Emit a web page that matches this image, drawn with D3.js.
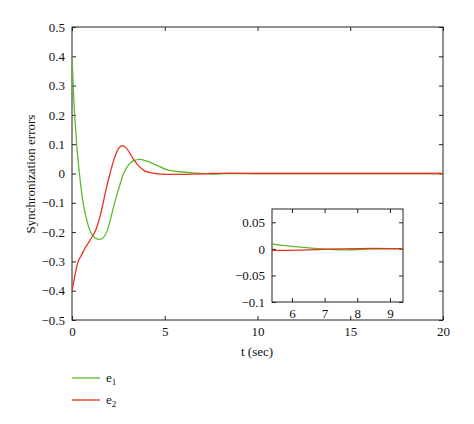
<!DOCTYPE html>
<html>
<head>
<meta charset="utf-8">
<script src="https://cdn.jsdelivr.net/npm/d3@7"></script>
<style>
  body { margin: 0; background: #fff; }
  text { font-family: "Liberation Serif", serif; font-size: 13px; fill: #111; }
  .axis path, .axis line { stroke: #222; }
</style>
</head>
<body>
<svg id="chart" width="474" height="424"></svg>
<script>
// data
const e1T = [0, 0.1, 0.25, 0.4, 0.6, 0.8, 1.0, 1.25, 1.5, 1.7, 1.9, 2.1, 2.3, 2.55, 2.75, 3.0, 3.3, 3.66, 4.0, 4.5, 5.1, 5.8, 6.5, 7.0, 7.6, 8.3, 9, 10, 12, 15, 20];
const e1V = [0.4, 0.25, 0.1, 0.0, -0.1, -0.16, -0.2, -0.22, -0.225, -0.218, -0.195, -0.15, -0.1, -0.045, -0.005, 0.025, 0.043, 0.048, 0.043, 0.03, 0.013, 0.006, 0.002, 0.0, -0.002, -0.0005, 0.0, 0.0, 0.0, 0.0, 0.0];
const e2T = [0, 0.15, 0.33, 0.5, 0.7, 1.0, 1.3, 1.5, 1.68, 1.85, 2.05, 2.3, 2.5, 2.73, 2.95, 3.3, 3.6, 3.9, 4.3, 4.8, 5.5, 6.5, 7.5, 8.5, 10, 12, 15, 20];
const e2V = [-0.4, -0.35, -0.3, -0.28, -0.255, -0.225, -0.19, -0.15, -0.1, -0.05, 0.0, 0.055, 0.085, 0.095, 0.085, 0.05, 0.025, 0.01, 0.002, -0.002, -0.003, -0.002, 0.0, 0.001, 0.0, 0.0, 0.0, 0.0];
const xTicks = [0, 5, 10, 15, 20];
const yTicks = [-0.5, -0.4, -0.3, -0.2, -0.1, 0, 0.1, 0.2, 0.3, 0.4, 0.5];
const insetXTicks = [6, 7, 8, 9];
const insetYTicks = [-0.1, -0.05, 0, 0.05];
const seriesNames = ['e', 'e'];
const seriesSubs = ['1', '2'];
const colors = ['#5cb82e', '#e8321e'];

const svg = d3.select('#chart');
const e1 = e1T.map((t, i) => [t, e1V[i]]);
const e2 = e2T.map((t, i) => [t, e2V[i]]);

function drawAxes(g, x, y, xt, yt, fmt) {
  const [x0, x1] = x.range(), [y0, y1] = y.range();
  g.append('rect').attr('x', x0).attr('y', y1).attr('width', x1 - x0).attr('height', y0 - y1)
    .attr('fill', '#fff').attr('stroke', '#222');
  g.append('g').attr('class', 'axis').attr('transform', `translate(0,${y0})`)
    .call(d3.axisBottom(x).tickValues(xt).tickSize(-4).tickPadding(7).tickFormat(fmt.x))
    .call(s => s.select('.domain').remove());
  g.append('g').attr('class', 'axis').attr('transform', `translate(0,${y1})`)
    .call(d3.axisTop(x).tickValues(xt).tickSize(-4).tickFormat(''))
    .call(s => s.select('.domain').remove());
  g.append('g').attr('class', 'axis').attr('transform', `translate(${x0},0)`)
    .call(d3.axisLeft(y).tickValues(yt).tickSize(-4).tickPadding(7).tickFormat(fmt.y))
    .call(s => s.select('.domain').remove());
  g.append('g').attr('class', 'axis').attr('transform', `translate(${x1},0)`)
    .call(d3.axisRight(y).tickValues(yt).tickSize(-4).tickFormat(''))
    .call(s => s.select('.domain').remove());
  g.selectAll('.tick text').style('font-family', '"Liberation Serif", serif').style('font-size', '13px').attr('fill', '#111');
}

function yFmt(d) { return d === 0 ? '0' : d3.format('')(d).replace('-', '\u2212'); }

// main axes
const x = d3.scaleLinear().domain([0, 20]).range([72, 443]);
const y = d3.scaleLinear().domain([-0.5, 0.5]).range([320, 27]);
const main = svg.append('g');
drawAxes(main, x, y, xTicks, yTicks, { x: d3.format('d'), y: yFmt });
const line = d3.line().x(d => x(d[0])).y(d => y(d[1])).curve(d3.curveMonotoneX);
svg.append('clipPath').attr('id', 'cm').append('rect').attr('x', 72).attr('y', 27).attr('width', 371).attr('height', 293);
[e1, e2].forEach((s, i) => main.append('path').attr('d', line(s)).attr('clip-path', 'url(#cm)')
  .attr('fill', 'none').attr('stroke', colors[i]).attr('stroke-width', 1.3));

svg.append('text').attr('x', 257).attr('y', 356).attr('text-anchor', 'middle').text('t (sec)');
svg.append('text').attr('transform', 'translate(35,174) rotate(-90)').attr('text-anchor', 'middle')
  .text('Synchronization errors');

// inset
const ix = d3.scaleLinear().domain([5.39, 9.4]).range([272, 403]);
const iy = d3.scaleLinear().domain([-0.1, 0.075]).range([302, 209]);
const inset = svg.append('g');
drawAxes(inset, ix, iy, insetXTicks, insetYTicks, { x: d3.format('d'), y: yFmt });
const iline = d3.line().x(d => ix(d[0])).y(d => iy(d[1])).curve(d3.curveMonotoneX);
svg.append('clipPath').attr('id', 'ci').append('rect').attr('x', 272).attr('y', 209).attr('width', 131).attr('height', 93);
[e1, e2].forEach((s, i) => inset.append('path').attr('d', iline(s)).attr('clip-path', 'url(#ci)')
  .attr('fill', 'none').attr('stroke', colors[i]).attr('stroke-width', 1.3));

// legend
const leg = svg.append('g');
seriesNames.forEach((n, i) => {
  const ly = 378 + i * 22;
  leg.append('line').attr('x1', 72).attr('x2', 100).attr('y1', ly).attr('y2', ly)
    .attr('stroke', colors[i]).attr('stroke-width', 1.3);
  const t = leg.append('text').attr('x', 106).attr('y', ly + 4);
  t.append('tspan').text(n);
  t.append('tspan').attr('dy', 3).style('font-size', '9px').text(seriesSubs[i]);
});
</script>
</body>
</html>
